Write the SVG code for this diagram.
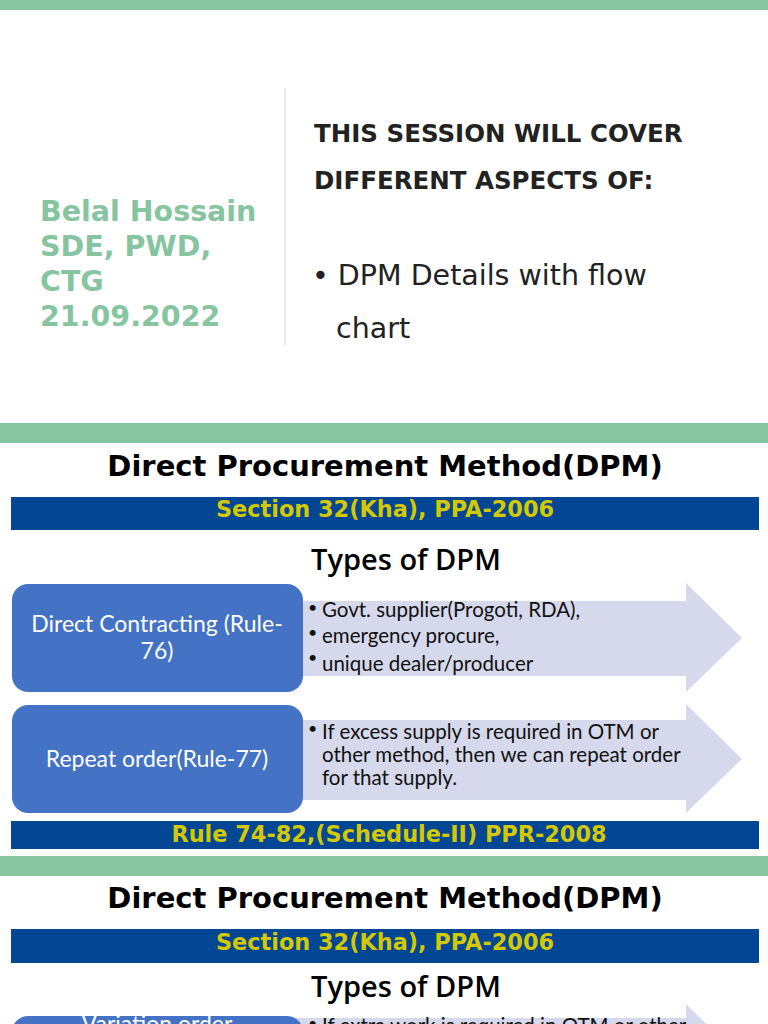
<svg xmlns="http://www.w3.org/2000/svg" width="768" height="1024" viewBox="0 0 768 1024">
<style>
.g{fill:#86c59f}.bl{fill:#034694}.box{fill:#4472c4}.arr{fill:#d5d9eb}
.t{font-family:"DejaVu Sans",sans-serif;font-weight:bold;fill:#000;text-anchor:middle}
.y{font-family:"DejaVu Sans",sans-serif;font-weight:bold;fill:#d4c900;font-size:22.4px;text-anchor:middle}
.w{font-family:"Lato","Liberation Sans",sans-serif;fill:#fff;font-size:23px;text-anchor:middle}
.k{font-family:"Lato","Liberation Sans",sans-serif;fill:#111;font-size:20.5px}
.tp{font-family:"Open Sans","DejaVu Sans",sans-serif;font-size:29px;font-weight:600;fill:#000;text-anchor:middle}
</style>
<rect width="768" height="1024" fill="#fff"/>
<rect class="g" x="0" y="0" width="768" height="10"/>
<g id="author"><text font-family="DejaVu Sans,sans-serif" font-weight="bold" font-size="28.5" fill="#86c59f"><tspan x="40" y="221">Belal Hossain</tspan><tspan x="40" y="256">SDE, PWD,</tspan><tspan x="40" y="291">CTG</tspan><tspan x="40" y="326">21.09.2022</tspan></text></g>
<line x1="285" y1="88" x2="285" y2="345" stroke="#d8d8d8" stroke-width="1"/>
<g id="session"><text font-family="DejaVu Sans,sans-serif" font-weight="bold" font-size="24.5" fill="#222"><tspan x="314" y="142">THIS SESSION WILL COVER</tspan><tspan x="314" y="189">DIFFERENT ASPECTS OF:</tspan></text>
<text font-family="DejaVu Sans,sans-serif" font-size="28.5" fill="#222"><tspan x="312" y="285">• DPM Details with flow</tspan><tspan x="336" y="338">chart</tspan></text></g>
<rect class="g" x="0" y="423" width="768" height="20"/>
<text class="t" x="385" y="476" font-size="29">Direct Procurement Method(DPM)</text>
<rect class="bl" x="11" y="497" width="748" height="33"/>
<text class="y" x="385" y="517">Section 32(Kha), PPA-2006</text>
<text class="tp" x="406" y="570">Types of DPM</text>
<g id="arrow1"><polygon class="arr" points="290,601 686,601 686,583 742,638 686,692 686,676 290,676"/>
<text class="k"><tspan x="308" y="613" font-size="16">•</tspan><tspan x="322" y="617">Govt. supplier(Progoti, RDA),</tspan><tspan x="308" y="638" font-size="16">•</tspan><tspan x="322" y="643">emergency procure,</tspan><tspan x="308" y="663" font-size="16">•</tspan><tspan x="322" y="671">unique dealer/producer</tspan></text></g>
<g id="node1"><rect class="box" x="12" y="584" width="291" height="108" rx="16"/><text class="w"><tspan x="157" y="632">Direct Contracting (Rule-</tspan><tspan x="157" y="659">76)</tspan></text></g>
<g id="arrow2"><polygon class="arr" points="290,720 686,720 686,704 742,759 686,813 686,800 290,800"/>
<text class="k"><tspan x="308" y="734" font-size="16">•</tspan><tspan x="322" y="739">If excess supply is required  in OTM or</tspan><tspan x="322" y="762">other method, then we can repeat order</tspan><tspan x="322" y="785">for that supply.</tspan></text></g>
<g id="node2"><rect class="box" x="12" y="705" width="291" height="108" rx="16"/><text class="w" x="157" y="767">Repeat order(Rule-77)</text></g>
<rect class="bl" x="11" y="821" width="748" height="28"/>
<text class="y" x="389" y="842">Rule 74-82,(Schedule-II)  PPR-2008</text>
<rect class="g" x="0" y="856" width="768" height="20"/>
<text class="t" x="385" y="908" font-size="29">Direct Procurement Method(DPM)</text>
<rect class="bl" x="11" y="929" width="748" height="34"/>
<text class="y" x="385" y="950">Section 32(Kha), PPA-2006</text>
<text class="tp" x="406" y="997">Types of DPM</text>
<g id="arrow3"><polygon class="arr" points="290,1018 686,1018 686,1004 742,1059 686,1113 686,1100 290,1100"/>
<text class="k"><tspan x="308" y="1029" font-size="16">•</tspan><tspan x="322" y="1033">If extra work is required  in OTM or other</tspan></text></g>
<g id="node3"><rect class="box" x="12" y="1016" width="291" height="108" rx="16"/><text class="w" x="157" y="1032">Variation order</text></g>
</svg>
